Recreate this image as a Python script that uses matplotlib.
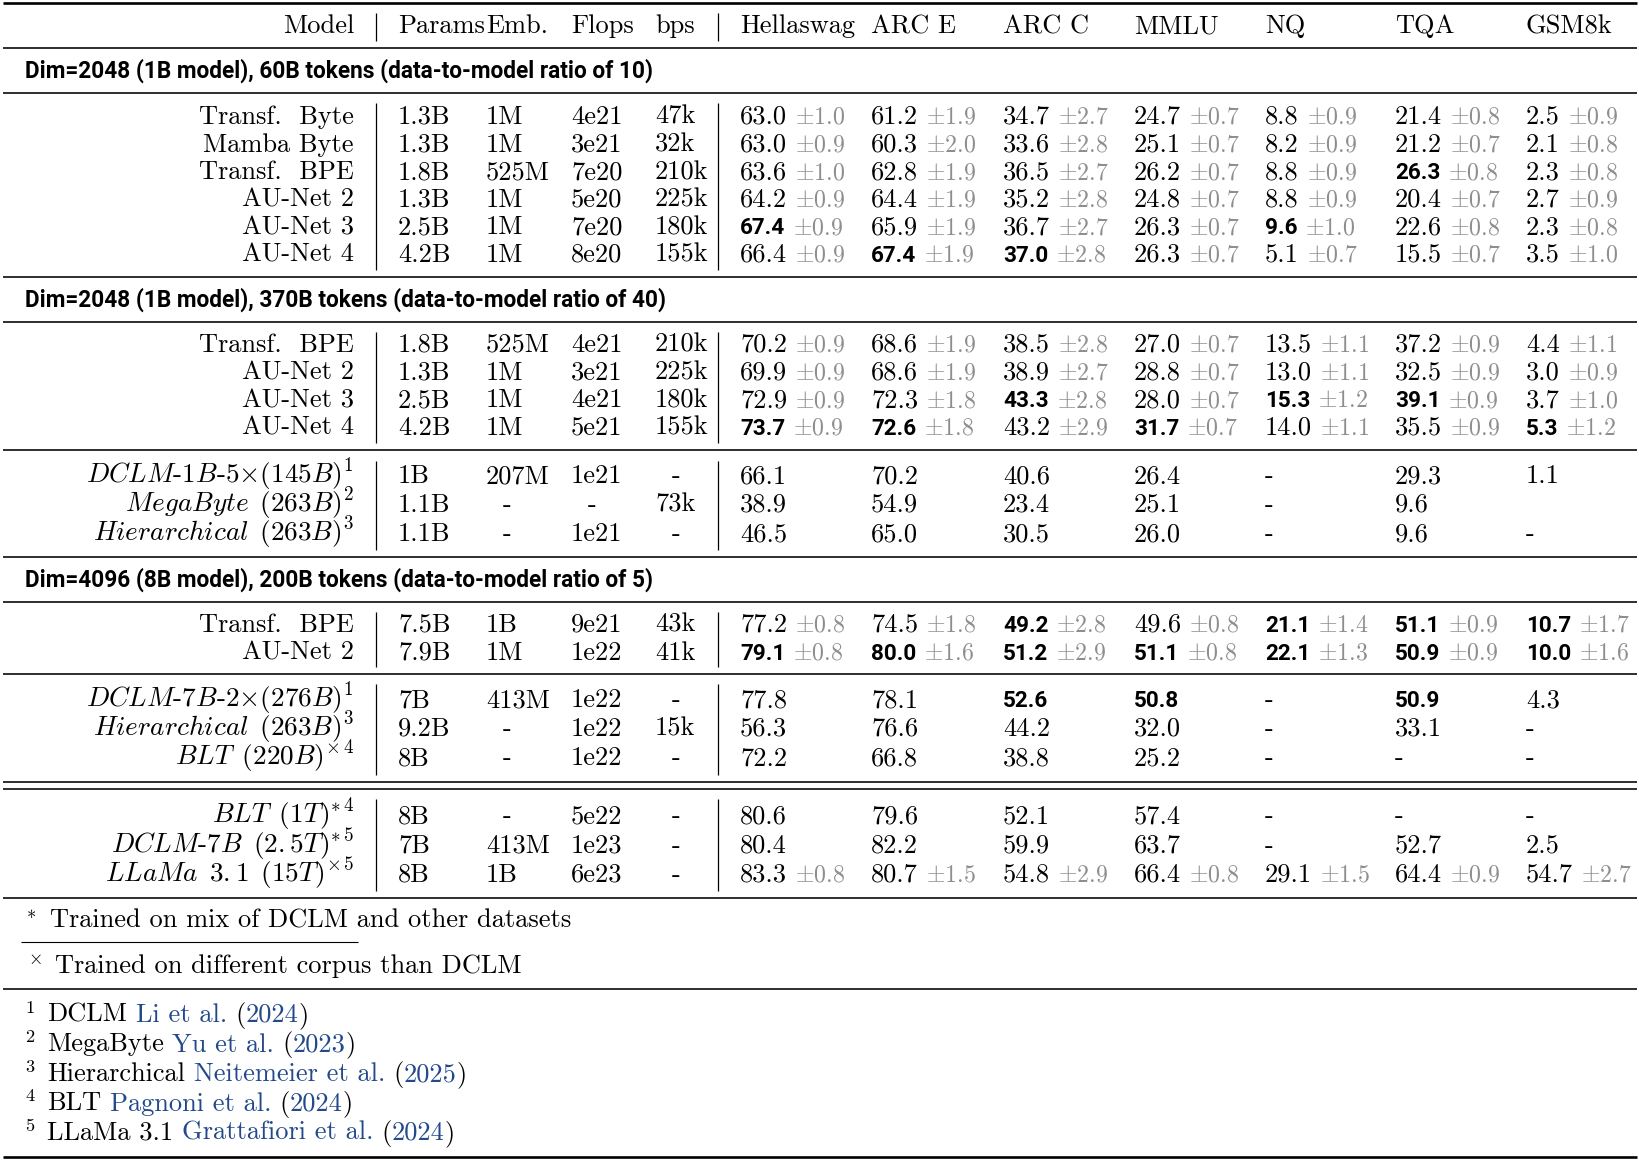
import matplotlib
matplotlib.use("Agg")
import matplotlib.pyplot as plt

plt.rcParams['mathtext.fontset'] = 'cm'

# ---------------- data ----------------
info_cols = ["Params", "Emb.", "Flops", "bps"]
bench_cols = ["Hellaswag", "ARC E", "ARC C", "MMLU", "NQ", "TQA", "GSM8k"]

section_titles = [
    "Dim=2048 (1B model), 60B tokens (data-to-model ratio of 10)",
    "Dim=2048 (1B model), 370B tokens (data-to-model ratio of 40)",
    "Dim=4096 (8B model), 200B tokens (data-to-model ratio of 5)",
]

# block 1 : 1B, 60B tokens
b1_models = ["Transf. Byte", "Mamba Byte", "Transf. BPE", "AU-Net 2", "AU-Net 3", "AU-Net 4"]
b1_params = ["1.3B", "1.3B", "1.8B", "1.3B", "2.5B", "4.2B"]
b1_emb = ["1M", "1M", "525M", "1M", "1M", "1M"]
b1_flops = ["4e21", "3e21", "7e20", "5e20", "7e20", "8e20"]
b1_bps = ["47k", "32k", "210k", "225k", "180k", "155k"]
b1_scores = [
    ["63.0", "61.2", "34.7", "24.7", "8.8", "21.4", "2.5"],
    ["63.0", "60.3", "33.6", "25.1", "8.2", "21.2", "2.1"],
    ["63.6", "62.8", "36.5", "26.2", "8.8", "26.3", "2.3"],
    ["64.2", "64.4", "35.2", "24.8", "8.8", "20.4", "2.7"],
    ["67.4", "65.9", "36.7", "26.3", "9.6", "22.6", "2.3"],
    ["66.4", "67.4", "37.0", "26.3", "5.1", "15.5", "3.5"],
]
b1_std = [
    ["1.0", "1.9", "2.7", "0.7", "0.9", "0.8", "0.9"],
    ["0.9", "2.0", "2.8", "0.7", "0.9", "0.7", "0.8"],
    ["1.0", "1.9", "2.7", "0.7", "0.9", "0.8", "0.8"],
    ["0.9", "1.9", "2.8", "0.7", "0.9", "0.7", "0.9"],
    ["0.9", "1.9", "2.7", "0.7", "1.0", "0.8", "0.8"],
    ["0.9", "1.9", "2.8", "0.7", "0.7", "0.7", "1.0"],
]
b1_bold = [
    [0, 0, 0, 0, 0, 0, 0],
    [0, 0, 0, 0, 0, 0, 0],
    [0, 0, 0, 0, 0, 1, 0],
    [0, 0, 0, 0, 0, 0, 0],
    [1, 0, 0, 0, 1, 0, 0],
    [0, 1, 1, 0, 0, 0, 0],
]

# block 2a : 1B, 370B tokens
b2_models = ["Transf. BPE", "AU-Net 2", "AU-Net 3", "AU-Net 4"]
b2_params = ["1.8B", "1.3B", "2.5B", "4.2B"]
b2_emb = ["525M", "1M", "1M", "1M"]
b2_flops = ["4e21", "3e21", "4e21", "5e21"]
b2_bps = ["210k", "225k", "180k", "155k"]
b2_scores = [
    ["70.2", "68.6", "38.5", "27.0", "13.5", "37.2", "4.4"],
    ["69.9", "68.6", "38.9", "28.8", "13.0", "32.5", "3.0"],
    ["72.9", "72.3", "43.3", "28.0", "15.3", "39.1", "3.7"],
    ["73.7", "72.6", "43.2", "31.7", "14.0", "35.5", "5.3"],
]
b2_std = [
    ["0.9", "1.9", "2.8", "0.7", "1.1", "0.9", "1.1"],
    ["0.9", "1.9", "2.7", "0.7", "1.1", "0.9", "0.9"],
    ["0.9", "1.8", "2.8", "0.7", "1.2", "0.9", "1.0"],
    ["0.9", "1.8", "2.9", "0.7", "1.1", "0.9", "1.2"],
]
b2_bold = [
    [0, 0, 0, 0, 0, 0, 0],
    [0, 0, 0, 0, 0, 0, 0],
    [0, 0, 1, 0, 1, 1, 0],
    [1, 1, 0, 1, 0, 0, 1],
]

# block 2b : reference 1B models
r2_models = ["DCLM-1B-5×(145B)", "MegaByte (263B)", "Hierarchical (263B)"]
r2_sup = ["1", "2", "3"]
r2_params = ["1B", "1.1B", "1.1B"]
r2_emb = ["207M", "-", "-"]
r2_flops = ["1e21", "-", "1e21"]
r2_bps = ["-", "73k", "-"]
r2_scores = [
    ["66.1", "70.2", "40.6", "26.4", "-", "29.3", "1.1"],
    ["38.9", "54.9", "23.4", "25.1", "-", "9.6", ""],
    ["46.5", "65.0", "30.5", "26.0", "-", "9.6", "-"],
]
r2_bold = [[0] * 7, [0] * 7, [0] * 7]

# block 3a : 8B, 200B tokens
b3_models = ["Transf. BPE", "AU-Net 2"]
b3_params = ["7.5B", "7.9B"]
b3_emb = ["1B", "1M"]
b3_flops = ["9e21", "1e22"]
b3_bps = ["43k", "41k"]
b3_scores = [
    ["77.2", "74.5", "49.2", "49.6", "21.1", "51.1", "10.7"],
    ["79.1", "80.0", "51.2", "51.1", "22.1", "50.9", "10.0"],
]
b3_std = [
    ["0.8", "1.8", "2.8", "0.8", "1.4", "0.9", "1.7"],
    ["0.8", "1.6", "2.9", "0.8", "1.3", "0.9", "1.6"],
]
b3_bold = [
    [0, 0, 1, 0, 1, 1, 1],
    [1, 1, 1, 1, 1, 1, 1],
]

# block 3b : reference 8B models
r3_models = ["DCLM-7B-2×(276B)", "Hierarchical (263B)", "BLT (220B)"]
r3_sup = ["1", "3", "×4"]
r3_params = ["7B", "9.2B", "8B"]
r3_emb = ["413M", "-", "-"]
r3_flops = ["1e22", "1e22", "1e22"]
r3_bps = ["-", "15k", "-"]
r3_scores = [
    ["77.8", "78.1", "52.6", "50.8", "-", "50.9", "4.3"],
    ["56.3", "76.6", "44.2", "32.0", "-", "33.1", "-"],
    ["72.2", "66.8", "38.8", "25.2", "-", "-", "-"],
]
r3_bold = [
    [0, 0, 1, 1, 0, 1, 0],
    [0] * 7,
    [0] * 7,
]

# block 4 : large external models
r4_models = ["BLT (1T)", "DCLM-7B (2.5T)", "LLaMa 3.1 (15T)"]
r4_sup = ["*4", "*5", "×5"]
r4_params = ["8B", "7B", "8B"]
r4_emb = ["-", "413M", "1B"]
r4_flops = ["5e22", "1e23", "6e23"]
r4_bps = ["-", "-", "-"]
r4_scores = [
    ["80.6", "79.6", "52.1", "57.4", "-", "-", "-"],
    ["80.4", "82.2", "59.9", "63.7", "-", "52.7", "2.5"],
    ["83.3", "80.7", "54.8", "66.4", "29.1", "64.4", "54.7"],
]
r4_std = [
    [None] * 7,
    [None] * 7,
    ["0.8", "1.5", "2.9", "0.8", "1.5", "0.9", "2.7"],
]
r4_bold = [[0] * 7, [0] * 7, [0] * 7]

footnote_marks = ["*", "×"]
footnote_marks_text = ["Trained on mix of DCLM and other datasets",
                       "Trained on different corpus than DCLM"]
ref_names = ["DCLM", "MegaByte", "Hierarchical", "BLT", "LLaMa 3.1"]
ref_authors = ["Li et al.", "Yu et al.", "Neitemeier et al.", "Pagnoni et al.", "Grattafiori et al."]
ref_years = ["2024", "2023", "2025", "2024", "2024"]

# ---------------- style / layout ----------------
W, H = 1640, 1162
SERIF = 'cmr10'
SANS = 'Roboto'
FS = 19
FS_IT = 19.6
FS_PM = 17.2
FS_B = 16.2
GRAY = '#8e8e8e'
BLUE = '#22498a'
THICK = 1.9
MID = 1.15
VLW = 0.9
XL, XR = 3, 1637

fig = plt.figure(figsize=(W / 100, H / 100), dpi=100)
ax = fig.add_axes([0, 0, 1, 1])
ax.set_xlim(0, W)
ax.set_ylim(H, 0)
ax.axis('off')
renderer = fig.canvas.get_renderer()

MODEL_X = 354
VBAR1, VBAR2 = 376.5, 718.5
INFO_X = [398, 486, 571, 655]
BENCH_X = [740, 871, 1003, 1134, 1265, 1395, 1526]
DASH_OFF = 17
PM_GAP = 8


def right_edge(t):
    bb = t.get_window_extent(renderer=renderer)
    return ax.transData.inverted().transform((bb.x1, bb.y0))[0]


def hrule(y, lw, x0=XL, x1=XR):
    ax.plot([x0, x1], [y, y], color='black', lw=lw, solid_capstyle='butt')


def vbars(y0, y1):
    for x in (VBAR1, VBAR2):
        ax.plot([x, x], [y0, y1], color='black', lw=VLW, solid_capstyle='butt')


def serif(x, y, s, ha='left', size=FS, color='black'):
    return ax.text(x, y, s, fontsize=size, family=SERIF, ha=ha, va='baseline', color=color)


def italic_math(name, sup):
    out = []
    for ch in name:
        if ch == ' ':
            out.append(r'\ \,')
        elif ch == '-':
            out.append(r'\text{-}')
        elif ch == '×':
            out.append(r'{\times}')
        elif ch == '.':
            out.append(r'\mathrm{.}')
        elif ch in '()':
            out.append(ch)
        else:
            out.append(r'\mathit{%s}' % ch)
    sm = []
    for c in sup:
        if c == '×':
            sm.append(r'{\times}\,')
        elif c == '*':
            sm.append(r'{\ast}\,')
        else:
            sm.append(r'\mathrm{%s}' % c)
    return '$' + ''.join(out) + '^{' + ''.join(sm) + '}$'


def score_cell(x, y, val, std, bold):
    if val == "":
        return
    if bold:
        t = ax.text(x, y, val, fontsize=FS_B, family=SANS, weight='bold', va='baseline')
    else:
        t = serif(x, y, val)
    if std:
        x1 = right_edge(t)
        ax.text(x1 + PM_GAP, y, r'$\pm\mathrm{%s}$' % std, fontsize=FS_PM,
                color=GRAY, va='baseline')


def draw_block(ys, models, sups, params, emb, flops, bps, scores, stds, bolds):
    for i, y in enumerate(ys):
        if sups is None:
            serif(MODEL_X, y, models[i].replace('. ', '.  '), ha='right')
        else:
            ax.text(MODEL_X, y, italic_math(models[i], sups[i]), fontsize=FS_IT,
                    ha='right', va='baseline')
        for j, col in enumerate((params, emb, flops, bps)):
            v = col[i]
            serif(INFO_X[j] + (DASH_OFF if v == '-' else 0), y, v)
        for j in range(7):
            std = stds[i][j] if stds is not None else None
            score_cell(BENCH_X[j], y, scores[i][j], std, bolds[i][j])


def rows(y0, n, step):
    return [y0 + k * step for k in range(n)]


# ---------------- header ----------------
hrule(3, THICK)
serif(MODEL_X, 33, "Model", ha='right')
for j, c in enumerate(info_cols):
    serif(INFO_X[j], 33, c)
for j, c in enumerate(bench_cols):
    serif(BENCH_X[j], 33, c)
vbars(13, 41)
hrule(48, MID)

# section title font size fitted to reference width
st = ax.text(25, 78, section_titles[0], fontsize=16, family=SANS, weight='bold', va='baseline')
w = right_edge(st) - 25
FS_SEC = 16 * 628 / w
st.set_fontsize(FS_SEC)

# ---------------- section 1 ----------------
hrule(93, MID)
draw_block(rows(124, 6, 27.6), b1_models, None, b1_params, b1_emb, b1_flops, b1_bps,
           b1_scores, b1_std, b1_bold)
vbars(103, 270)
hrule(277, MID)

# ---------------- section 2 ----------------
ax.text(25, 307, section_titles[1], fontsize=FS_SEC, family=SANS, weight='bold', va='baseline')
hrule(322, MID)
draw_block(rows(352, 4, 27.6), b2_models, None, b2_params, b2_emb, b2_flops, b2_bps,
           b2_scores, b2_std, b2_bold)
vbars(332, 443)
hrule(450, MID)
draw_block(rows(483, 3, 29), r2_models, r2_sup, r2_params, r2_emb, r2_flops, r2_bps,
           r2_scores, None, r2_bold)
vbars(461, 550)
hrule(557, MID)

# ---------------- section 3 ----------------
ax.text(25, 587, section_titles[2], fontsize=FS_SEC, family=SANS, weight='bold', va='baseline')
hrule(602, MID)
draw_block(rows(632, 2, 27.5), b3_models, None, b3_params, b3_emb, b3_flops, b3_bps,
           b3_scores, b3_std, b3_bold)
vbars(612, 667)
hrule(674, MID)
draw_block(rows(707, 3, 29), r3_models, r3_sup, r3_params, r3_emb, r3_flops, r3_bps,
           r3_scores, None, r3_bold)
vbars(684, 775)
hrule(782, MID)
hrule(789, MID)
draw_block(rows(823, 3, 29.5), r4_models, r4_sup, r4_params, r4_emb, r4_flops, r4_bps,
           r4_scores, r4_std, r4_bold)
vbars(799, 891)
hrule(898, MID)

# ---------------- footnotes ----------------
mark_math = {'*': r'$^{\ast}$', '×': r'$^{\times}$'}
ax.text(25, 927, mark_math[footnote_marks[0]], fontsize=FS, va='baseline')
serif(50, 927, footnote_marks_text[0])
hrule(942, 0.8, 21, 358)
ax.text(27, 973, mark_math[footnote_marks[1]], fontsize=FS, va='baseline')
serif(55, 973, footnote_marks_text[1])
hrule(989, MID)

SPACE = 8.5
for k in range(5):
    y = 1022 + k * 29.5
    ax.text(24, y, r'$^{\mathrm{%d}}$' % (k + 1), fontsize=FS, va='baseline')
    x = 47
    parts = [(ref_names[k], 'black', SPACE), (ref_authors[k], BLUE, SPACE),
             ("(", 'black', 0), (ref_years[k], BLUE, 0), (")", 'black', 0)]
    for s, c, gap in parts:
        t = serif(x, y, s, color=c)
        x = right_edge(t) + gap
hrule(1157, THICK)

fig.savefig("out.png", dpi=100)
